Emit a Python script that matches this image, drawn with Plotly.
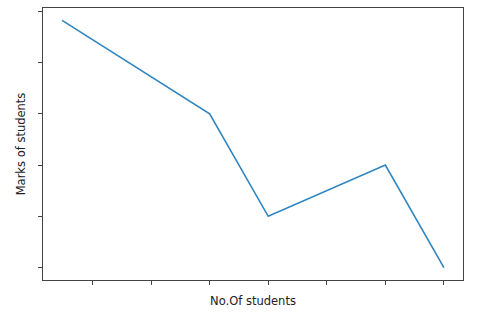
import plotly.graph_objects as go

# Data (no tick labels in the reference; values read on a relative scale)
x_students = [7.4, 20, 25, 35, 40]
y_marks = [78.2, 60, 40, 50, 30]
x_ticks = [10, 15, 20, 25, 30, 35, 40]
y_ticks = [30, 40, 50, 60, 70, 80]

def padded(vals, frac=0.05):
    lo, hi = min(vals), max(vals)
    m = (hi - lo) * frac
    return [lo - m, hi + m]

fig = go.Figure()
fig.add_trace(go.Scatter(x=x_students, y=y_marks, mode="lines",
                         line=dict(color="#2f85c0", width=1.6),
                         showlegend=False))

axis_common = dict(showgrid=False, zeroline=False, showline=True, mirror=True,
                   linecolor="#444", linewidth=1.2, ticks="outside",
                   ticklen=4, tickwidth=1, tickcolor="#444",
                   showticklabels=False)

fig.update_layout(
    width=480, height=313,
    margin=dict(l=43, r=17, t=8, b=33),
    paper_bgcolor="white", plot_bgcolor="white",
    font=dict(family="DejaVu Sans", size=11, color="#222"),
    xaxis=dict(range=padded(x_students), tickvals=x_ticks,
               title=dict(text="No.Of students", standoff=12,
                          font=dict(size=11.5)), **axis_common),
    yaxis=dict(range=padded(y_marks), tickvals=y_ticks,
               title=dict(text="Marks of students", standoff=9,
                          font=dict(size=11.5)), **axis_common),
)

fig.write_html("out.html")
